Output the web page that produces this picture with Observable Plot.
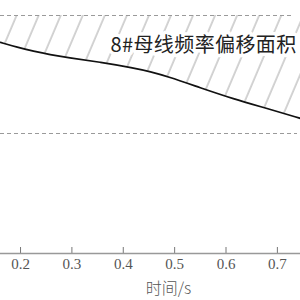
<!DOCTYPE html>
<html>
<head>
<meta charset="utf-8">
<script src="https://cdn.jsdelivr.net/npm/d3@7"></script>
<script src="https://cdn.jsdelivr.net/npm/@observablehq/plot@0.6"></script>
<style>
  html, body { margin: 0; padding: 0; background: #fff; }
  #chart { width: 300px; height: 300px; overflow: hidden; }
  #chart text.serif { font-family: "Liberation Serif", "DejaVu Serif", serif !important; }
</style>
</head>
<body>
<div id="chart"></div>
<script>
// Time (s) and bus frequency (Hz)
const times = [0.161, 0.194, 0.225, 0.258, 0.291, 0.356, 0.420, 0.453, 0.486, 0.550, 0.614, 0.680, 0.745];
const freqs = [49.886, 49.865, 49.849, 49.834, 49.822, 49.802, 49.778, 49.762, 49.742, 49.694, 49.647, 49.606, 49.564];
const nominal = 50.0;
const lowerLimit = 49.5;
const xTicks = [0.2, 0.3, 0.4, 0.5, 0.6, 0.7];
const tickLabels = ["0.2", "0.3", "0.4", "0.5", "0.6", "0.7"];
const annotation = "8#母线频率偏移面积";
const annotationAt = {t: 0.375, f: 49.873};
const xLabel = "时间/s";
const xLabelAt = 0.488;

const data = times.map((t, i) => ({t, f: freqs[i]}));

const chart = Plot.plot({
  width: 300,
  height: 300,
  marginTop: 0,
  marginLeft: 0,
  marginRight: 0,
  marginBottom: 47,
  style: {background: "#fff"},
  x: {domain: [0.161, 0.745], axis: null},
  y: {domain: [48.9915, 50.0636], axis: null},
  marks: [
    Plot.areaY(data, {x: "t", y1: "f", y2: () => nominal, fill: "url(#hatch)", curve: "basis"}),
    Plot.ruleY([nominal], {stroke: "#9a9a9a", strokeWidth: 1.1, strokeDasharray: "4,3", insetRight: 6}),
    Plot.ruleY([lowerLimit], {stroke: "#9a9a9a", strokeWidth: 1.1, strokeDasharray: "4,3", insetRight: 3}),
    Plot.lineY(data, {x: "t", y: "f", stroke: "#111", strokeWidth: 1.7, curve: "basis"}),
    Plot.text([annotation], {
      x: () => annotationAt.t, y: () => annotationAt.f, text: d => d,
      textAnchor: "start", fontSize: 20, fill: "#222",
      fontFamily: "Noto Sans CJK SC", stroke: "white", strokeWidth: 7
    }),
    Plot.ruleX(xTicks, {stroke: "#777", strokeWidth: 1, insetTop: 247}),
    Plot.text(xTicks, {
      x: d => d, frameAnchor: "bottom", text: (d, i) => tickLabels[i], dy: 15,
      fontSize: 15, fill: "#555", fontFamily: "Liberation Serif"
    }),
    Plot.frame({anchor: "bottom", stroke: "#999", strokeWidth: 1.5}),
    Plot.text([xLabel], {
      x: () => xLabelAt, frameAnchor: "bottom", text: d => d, dy: 40,
      fontSize: 16, fill: "#555", fontFamily: "Noto Sans CJK SC", fontWeight: 300
    })
  ]
});

// hatch pattern definition
const svgNS = "http://www.w3.org/2000/svg";
const defs = document.createElementNS(svgNS, "defs");
defs.innerHTML = `<pattern id="hatch" patternUnits="userSpaceOnUse" width="20.3" height="10" patternTransform="rotate(23)">
  <line x1="1" y1="0" x2="1" y2="10" stroke="#9c9c9c" stroke-width="0.9"/>
</pattern>`;
chart.insertBefore(defs, chart.firstChild);
// typographic touches
chart.querySelectorAll("text").forEach(el => {
  const s = el.textContent.trim();
  if (tickLabels.includes(s)) {
    el.classList.add("serif");
    el.setAttribute("font-family", "Liberation Serif");
  }
  if (s === annotation) {
    el.style.letterSpacing = "0.4px";
  }
});
document.getElementById("chart").appendChild(chart);
</script>
</body>
</html>
